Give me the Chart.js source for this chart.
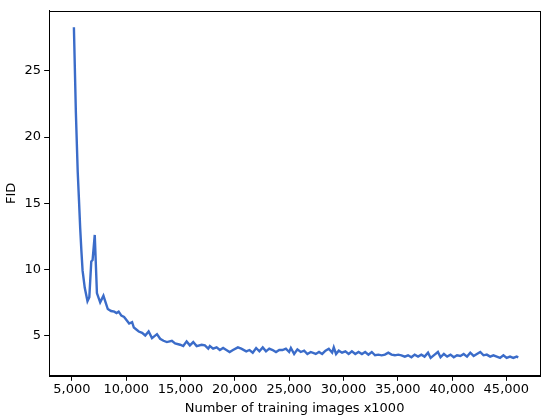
<!DOCTYPE html>
<html>
<head>
<meta charset="utf-8">
<script src="https://cdn.jsdelivr.net/npm/chart.js@4/dist/chart.umd.min.js"></script>
<style>
  html, body { margin: 0; padding: 0; background: #fff; }
  canvas { display: block; }
</style>
</head>
<body>
<canvas id="chart1" width="550" height="420"></canvas>
<script>
// training images (x1000) and FID
const Images = [
  5180, 5360, 5530, 5650, 5760, 5870, 5980, 6180, 6430, 6600,
  6780, 6900, 7100, 7300, 7600, 7900, 8300, 8600, 8900, 9100,
  9300, 9550, 9800, 10090, 10270, 10540, 10700, 11150, 11460, 11750,
  12060, 12370, 12830, 13120, 13430, 13740, 14200, 14500, 14960, 15250,
  15560, 15860, 16170, 16480, 16940, 17240, 17550, 17700, 18000, 18320,
  18620, 18920, 19220, 19520, 19830, 20280, 20590, 21050, 21350, 21650,
  21960, 22260, 22570, 22870, 23170, 23480, 23790, 24090, 24390, 24700,
  25000, 25160, 25460, 25760, 26070, 26380, 26680, 26990, 27450, 27750,
  28040, 28350, 28650, 28960, 29110, 29320, 29570, 29870, 30180, 30480,
  30780, 31090, 31390, 31700, 32000, 32300, 32610, 32910, 33220, 33520,
  33820, 34130, 34430, 34740, 35040, 35340, 35650, 35950, 36260, 36560,
  36870, 37170, 37470, 37790, 38030, 38400, 38700, 38940, 39250, 39550,
  39860, 40160, 40460, 40770, 41070, 41380, 41680, 41990, 42290, 42600,
  42900, 43200, 43510, 43810, 44120, 44420, 44730, 45030, 45340, 45640,
  45950, 46100
];
const FID = [
  28.3, 21.9, 17.4, 15.2, 13.1, 11.4, 9.9, 8.6, 7.6, 7.9,
  10.6, 10.7, 12.6, 8.2, 7.5, 8.0, 7.0, 6.85, 6.8, 6.7,
  6.8, 6.5, 6.4, 6.1, 5.9, 6.0, 5.6, 5.3, 5.2, 5.0,
  5.3, 4.8, 5.1, 4.75, 4.6, 4.5, 4.6, 4.4, 4.3, 4.2,
  4.55, 4.25, 4.5, 4.2, 4.3, 4.25, 4.0, 4.2, 4.0, 4.1,
  3.9, 4.05, 3.9, 3.75, 3.9, 4.1, 4.0, 3.8, 3.9, 3.7,
  4.05, 3.8, 4.1, 3.8, 4.0, 3.9, 3.75, 3.9, 3.9, 4.0,
  3.75, 4.05, 3.6, 3.95, 3.75, 3.85, 3.6, 3.75, 3.6, 3.75,
  3.6, 3.85, 4.0, 3.7, 4.1, 3.6, 3.85, 3.7, 3.8, 3.6,
  3.8, 3.6, 3.75, 3.6, 3.75, 3.55, 3.75, 3.5, 3.55, 3.5,
  3.55, 3.7, 3.55, 3.5, 3.55, 3.5, 3.4, 3.5, 3.35, 3.55,
  3.4, 3.55, 3.4, 3.7, 3.3, 3.55, 3.75, 3.35, 3.6, 3.4,
  3.55, 3.35, 3.5, 3.45, 3.6, 3.4, 3.7, 3.45, 3.6, 3.75,
  3.5, 3.55, 3.4, 3.5, 3.4, 3.3, 3.5, 3.3, 3.4, 3.3,
  3.4, 3.35
];
const XTicks = [5000, 10000, 15000, 20000, 25000, 30000, 35000, 40000, 45000];
const YTicks = [5, 10, 15, 20, 25];

const LineColor = '#3b6cc9';
const Font = { family: 'DejaVu Sans', size: 13 };

// frame round the plot area, like the matplotlib axes box
const FramePlugin = {
  id: 'frame',
  afterDraw(chart) {
    const a = chart.chartArea;
    const ctx = chart.ctx;
    ctx.save();
    ctx.strokeStyle = '#000';
    ctx.lineWidth = 1;
    ctx.strokeRect(Math.round(a.left) + 0.5, Math.round(a.top) + 0.5,
                   Math.round(a.right - a.left), Math.round(a.bottom - a.top));
    ctx.restore();
  }
};

new Chart('chart1', {
  type: 'line',
  data: {
    datasets: [{
      data: Images.map((x, i) => ({ x: x, y: FID[i] })),
      borderColor: LineColor,
      borderWidth: 2.4,
      pointRadius: 0,
      tension: 0,
      fill: false
    }]
  },
  options: {
    responsive: false,
    animation: false,
    devicePixelRatio: 1,
    layout: { padding: { top: 10, right: 10, left: 4, bottom: 4 } },
    plugins: { legend: { display: false }, tooltip: { enabled: false } },
    scales: {
      x: {
        type: 'linear',
        min: 2900,
        max: 48100,
        afterBuildTicks: s => { s.ticks = XTicks.map(v => ({ value: v })); },
        ticks: {
          color: '#000',
          font: Font,
          padding: 1,
          maxRotation: 0,
          autoSkip: false,
          callback: v => v.toLocaleString('en-US')
        },
        grid: { drawOnChartArea: false, drawTicks: true, tickLength: 5, color: '#000' },
        border: { display: true, color: '#000' },
        title: { display: true, text: 'Number of training images x1000', color: '#000', font: Font, padding: { top: 2, bottom: 0 } }
      },
      y: {
        type: 'linear',
        min: 1.95,
        max: 29.55,
        afterBuildTicks: s => { s.ticks = YTicks.map(v => ({ value: v })); },
        ticks: { color: '#000', font: Font, padding: 3, autoSkip: false },
        grid: { drawOnChartArea: false, drawTicks: true, tickLength: 5, color: '#000' },
        border: { display: true, color: '#000' },
        title: { display: true, text: 'FID', color: '#000', font: Font, padding: { top: 0, bottom: 2 } }
      }
    }
  },
  plugins: [FramePlugin]
});
</script>
</body>
</html>
